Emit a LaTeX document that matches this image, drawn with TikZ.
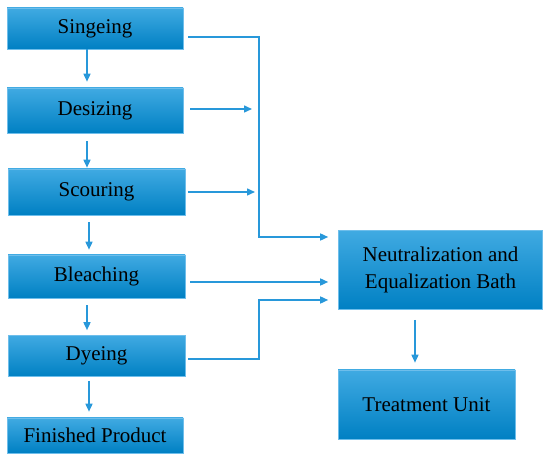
\documentclass[tikz,border=0pt]{standalone}
\usepackage{fontspec}
\newfontfamily\romanfont{Liberation Serif}
\usepackage{xcolor}
\usetikzlibrary{positioning,arrows.meta,calc}

\definecolor{boxtop}{RGB}{64,170,226}
\definecolor{boxmid}{RGB}{5,155,222}
\definecolor{boxbot}{RGB}{0,128,195}
\definecolor{boxrim}{RGB}{110,190,235}
\definecolor{flowblue}{RGB}{40,152,218}

\tikzset{
  stage/.style={rectangle, draw=boxrim, line width=0.6pt, top color=boxtop, middle color=boxmid, bottom color=boxbot,
    align=center, inner sep=0pt, font=\romanfont\fontsize{21}{27}\selectfont},
  flow/.style={draw=flowblue, line width=1.5pt, -{Triangle[length=8pt,width=7pt]}}
}

\begin{document}
\begin{tikzpicture}[x=1pt,y=-1pt]
\useasboundingbox (0,0) rectangle (550,462);

% Process stages
\node[stage, minimum width=176pt, minimum height=41pt] (singe) at (95,28.5) {Singeing};
\node[stage, minimum width=176pt, minimum height=45pt] (desize) at (95,110.5) {Desizing};
\node[stage, minimum width=177pt, minimum height=46pt] (scour) at (96.5,192) {Scouring};
\node[stage, minimum width=177pt, minimum height=43pt] (bleach) at (96.5,276.5) {Bleaching};
\node[stage, minimum width=177pt, minimum height=41pt] (dye) at (96.5,356) {Dyeing};
\node[stage, minimum width=176pt, minimum height=35pt] (finish) at (95,435.5) {Finished Product};

% Effluent side
\node[stage, minimum width=204pt, minimum height=79pt] (neutral) at (440.5,270) {Neutralization and\\Equalization Bath};
\node[stage, minimum width=177pt, minimum height=69pt] (treat) at (426.5,404.5) {Treatment Unit};
\coordinate (trunk) at (259,0);

% Main line
\draw[flow, shorten >=6pt] ([xshift=-8pt]singe.south) -- ([xshift=-8pt]desize.north);
\draw[flow, shorten <=8pt, shorten >=1pt] ([xshift=-8pt]desize.south) -- ([xshift=-9.5pt]scour.north);
\draw[flow, shorten <=7pt, shorten >=5pt] ([xshift=-7.5pt]scour.south) -- ([xshift=-7.5pt]bleach.north);
\draw[flow, shorten <=7pt, shorten >=5pt] ([xshift=-9.5pt]bleach.south) -- ([xshift=-9.5pt]dye.north);
\draw[flow, shorten <=4pt, shorten >=6pt] ([xshift=-7.5pt]dye.south) -- ([xshift=-6pt]finish.north);

% Waste streams
\draw[flow, shorten <=5pt, shorten >=10pt] ([yshift=-8.5pt]singe.east) -| ([yshift=33pt]neutral.west -| trunk) -- ([yshift=33pt]neutral.west);
\draw[flow, shorten <=7pt, shorten >=7pt] ([yshift=1.5pt]desize.east) -- ([yshift=1.5pt]desize.east -| trunk);
\draw[flow, shorten <=2.5pt, shorten >=4pt] (scour.east) -- (scour.east -| trunk);
\draw[flow, shorten <=5pt, shorten >=10pt] ([yshift=-5.5pt]bleach.east) -- ([yshift=-12pt]neutral.west);
\draw[flow, shorten <=3pt, shorten >=10pt] ([yshift=-3pt]dye.east) -| ([yshift=-30pt]neutral.west -| trunk) -- ([yshift=-30pt]neutral.west);
\draw[flow, shorten <=10pt, shorten >=7pt] ([xshift=-25.5pt]neutral.south) -- ([xshift=-11.5pt]treat.north);
\end{tikzpicture}
\end{document}
